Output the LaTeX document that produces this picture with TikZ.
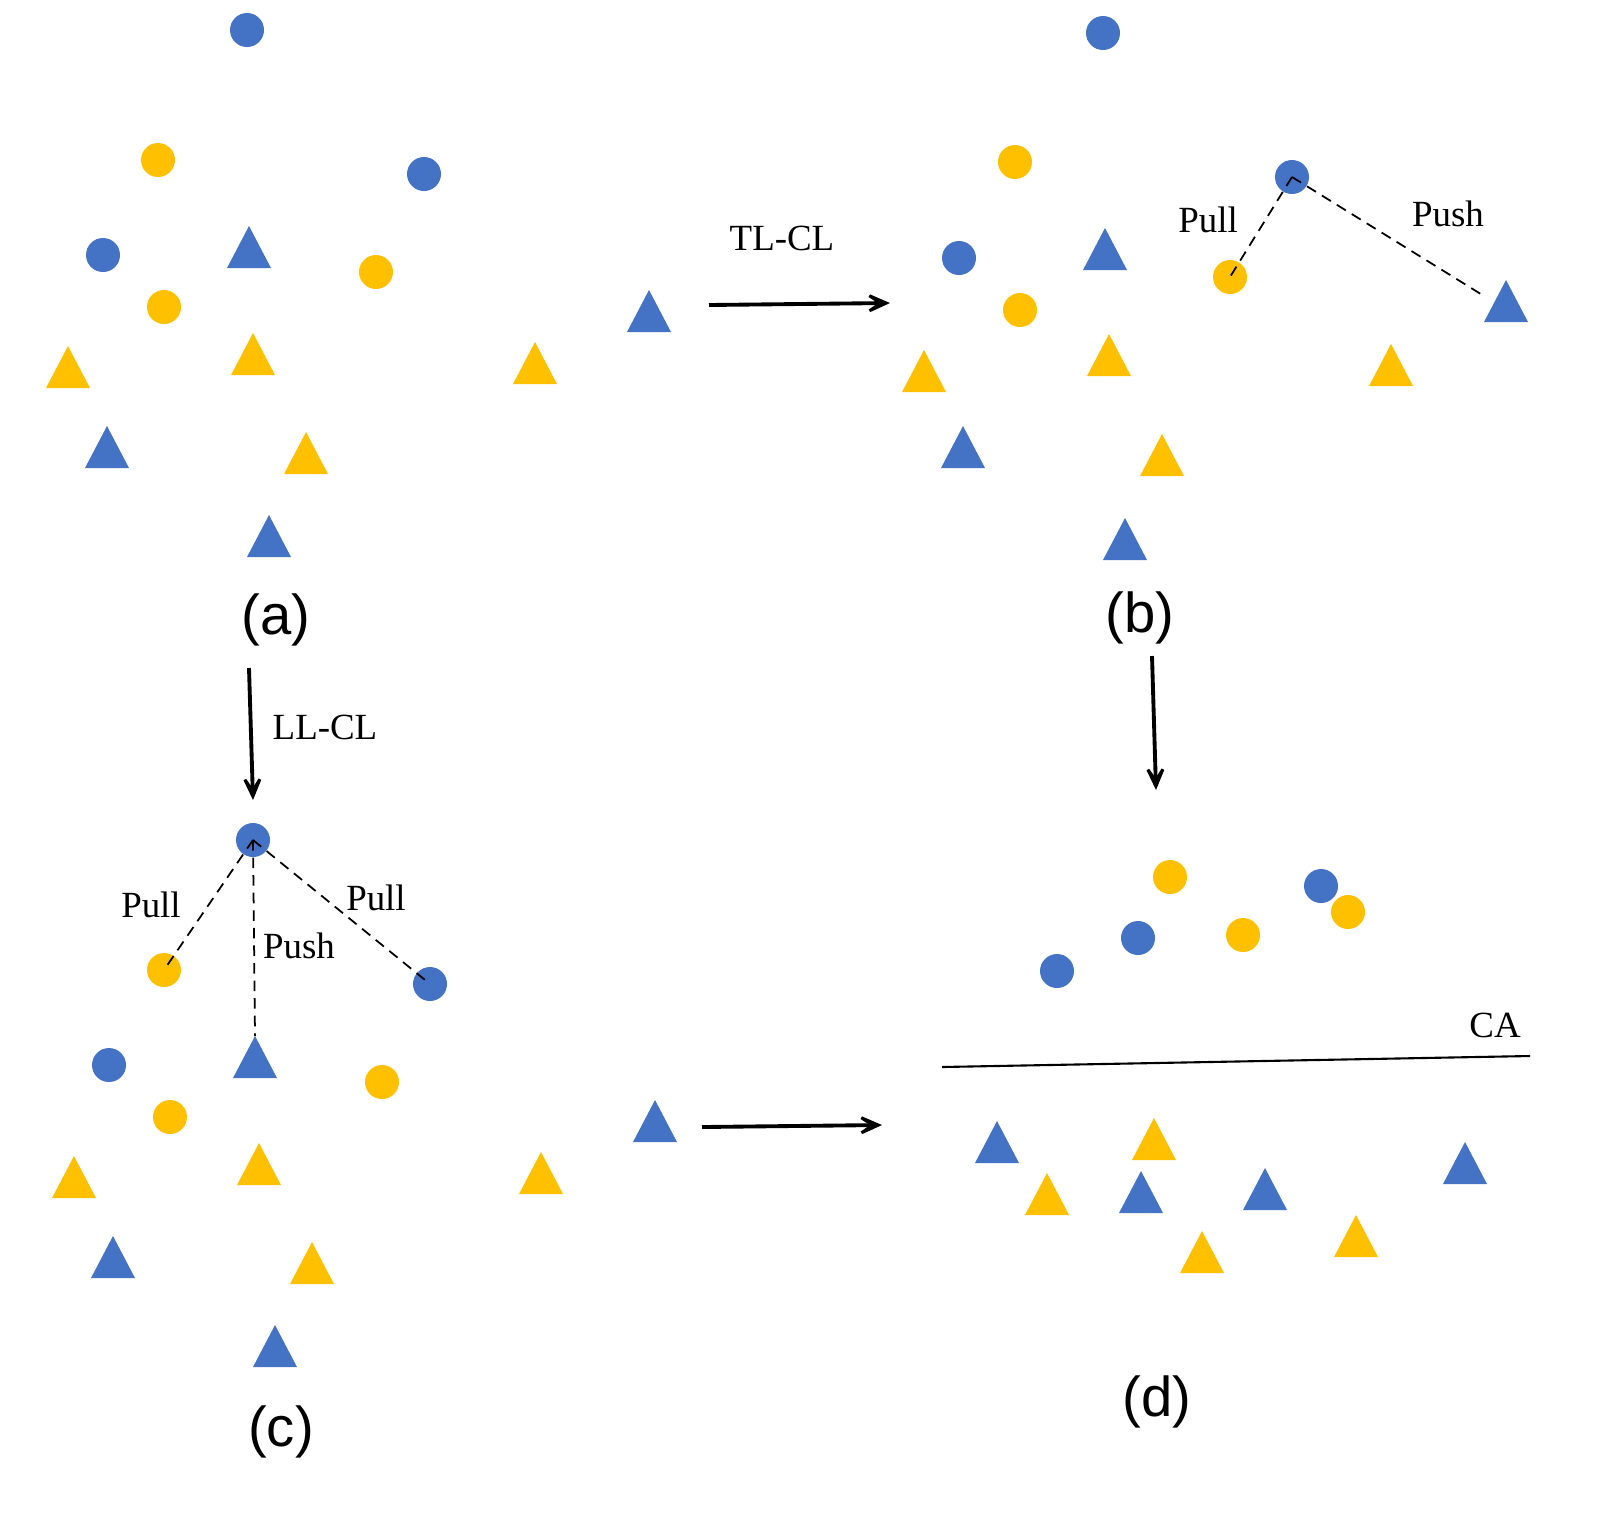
\documentclass[tikz,border=0pt]{standalone}
\usepackage{fontspec}
\setmainfont{Liberation Serif}
\newfontfamily\lab{Liberation Sans}
\usetikzlibrary{arrows.meta}
\definecolor{cblue}{HTML}{4472C4}
\definecolor{cyel}{HTML}{FFC000}
\tikzset{x=0.1mm,y=-0.1mm,
 bc/.pic={\fill[cblue] (0,0) circle (17);},
 yc/.pic={\fill[cyel] (0,0) circle (17);},
 bt/.pic={\fill[cblue] (-22,20)--(22,20)--(0,-22)--cycle;},
 yt/.pic={\fill[cyel] (-22,20)--(22,20)--(0,-22)--cycle;},
 arr/.style={line width=1.1pt,-{Stealth[length=3.6mm,width=3.2mm,inset=2.4mm]}},
 dashln/.style={densely dashed,line width=0.5pt},
 txt/.style={font=\fontsize{10.5}{12}\selectfont},
 plab/.style={font=\lab\fontsize{16}{19}\selectfont}}
\newcommand{\panelA}{%
 \pic at (247,30){bc}; \pic at (424,174){bc}; \pic at (103,255){bc};
 \pic at (158,160){yc}; \pic at (376,272){yc}; \pic at (164,307){yc};
 \pic at (249,248){bt}; \pic at (649,312){bt}; \pic at (107,448){bt}; \pic at (269,537){bt};
 \pic at (68,368){yt}; \pic at (253,355){yt}; \pic at (535,364){yt}; \pic at (306,454){yt};}
\begin{document}
\begin{tikzpicture}
\useasboundingbox (0,0) rectangle (1607,1522);
% (a)
\panelA
\node[plab] (la) at (276,620) {(a)};
% (c)
\begin{scope}[shift={(6,810)}]
\panelA
\coordinate (c0) at (247,30); \coordinate (c1) at (158,160);
\coordinate (c2) at (249,226); \coordinate (c3) at (424,174);
\end{scope}
\draw[dashln] (c0)--(c1); \draw[dashln] (c0)--(c2); \draw[dashln] (c0)--(c3);
\node[txt] (p1) at (151,905) {Pull};
\node[txt] (p2) at (299,946) {Push};
\node[txt] (p3) at (376,898) {Pull};
\node[plab] (lc) at (281,1432) {(c)};
% (b)
\pic at (1103,33){bc}; \pic at (959,258){bc}; \pic at (1292,177){bc};
\pic at (1015,162){yc}; \pic at (1020,310){yc}; \pic at (1230,277){yc};
\pic at (1105,250){bt}; \pic at (1506,302){bt}; \pic at (963,448){bt}; \pic at (1125,540){bt};
\pic at (924,372){yt}; \pic at (1109,356){yt}; \pic at (1391,366){yt}; \pic at (1162,456){yt};
\coordinate (b0) at (1292,177); \coordinate (b1) at (1230,277); \coordinate (b2) at (1484,296);
\draw[dashln] (b0)--(b1); \draw[dashln] (b0)--(b2);
\node[txt] (bp1) at (1208,220) {Pull};
\node[txt] (bp2) at (1448,214) {Push};
\node[plab] (lb) at (1140,618) {(b)};
% (d)
\pic at (1170,877){yc}; \pic at (1243,935){yc}; \pic at (1348,912){yc};
\pic at (1321,886){bc}; \pic at (1138,938){bc}; \pic at (1057,971){bc};
\coordinate (ca1) at (942,1067); \coordinate (ca2) at (1530,1056);
\draw[line width=0.6pt] (ca1)--(ca2);
\node[txt] (ca) at (1495,1025) {CA};
\pic at (997,1143){bt}; \pic at (1141,1193){bt}; \pic at (1265,1190){bt}; \pic at (1465,1164){bt};
\pic at (1154,1140){yt}; \pic at (1047,1195){yt}; \pic at (1202,1253){yt}; \pic at (1356,1237){yt};
\node[plab] (ld) at (1157,1402) {(d)};
% arrows
\coordinate (a1s) at (709,305); \coordinate (a1e) at (890,303);
\draw[arr] (a1s)--(a1e);
\node[txt] (tl) at (782,238) {TL-CL};
\coordinate (a2s) at (249,668); \coordinate (a2e) at (253,800);
\draw[arr] (a2s)--(a2e);
\node[txt] (ll) at (325,727) {LL-CL};
\coordinate (a3s) at (1152,656); \coordinate (a3e) at (1156,790);
\draw[arr] (a3s)--(a3e);
\coordinate (a4s) at (702,1127); \coordinate (a4e) at (882,1125);
\draw[arr] (a4s)--(a4e);
\end{tikzpicture}
\end{document}
